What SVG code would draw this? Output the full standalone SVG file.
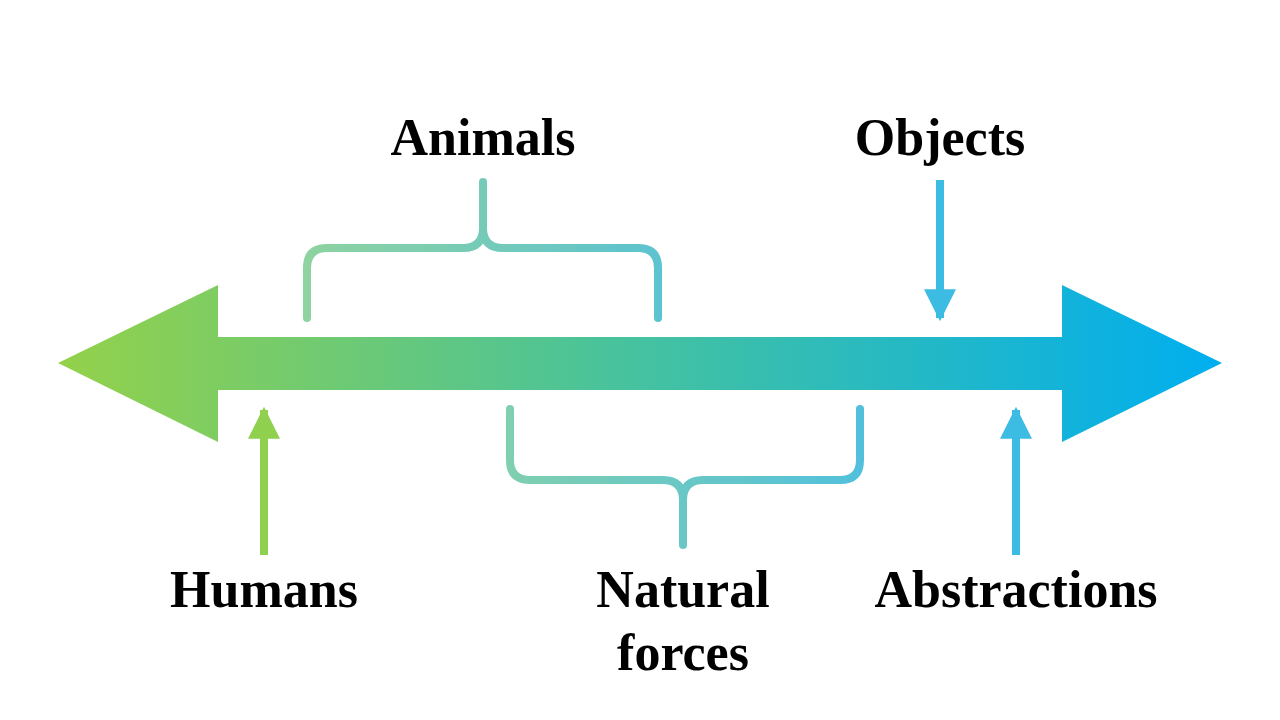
<svg xmlns="http://www.w3.org/2000/svg" width="1280" height="720" viewBox="0 0 1280 720">
<defs>
<linearGradient id="main" x1="58" y1="0" x2="1222" y2="0" gradientUnits="userSpaceOnUse">
<stop offset="0" stop-color="#94d14a"/><stop offset="0.5" stop-color="#45c2a0"/><stop offset="1" stop-color="#00aeef"/>
</linearGradient>
<linearGradient id="b1" x1="305" y1="0" x2="660" y2="0" gradientUnits="userSpaceOnUse">
<stop offset="0" stop-color="#8ed3a0"/><stop offset="1" stop-color="#5cc3d0"/>
</linearGradient>
<linearGradient id="b2" x1="510" y1="0" x2="862" y2="0" gradientUnits="userSpaceOnUse">
<stop offset="0" stop-color="#7fcfb0"/><stop offset="1" stop-color="#52c0dc"/>
</linearGradient>
<marker id="ag" viewBox="0 0 10 10" refX="9" refY="5" markerWidth="4" markerHeight="4" orient="auto" markerUnits="strokeWidth"><path d="M0,0L10,5L0,10z" fill="#8fd14f"/></marker>
<marker id="ab" viewBox="0 0 10 10" refX="9" refY="5" markerWidth="4" markerHeight="4" orient="auto" markerUnits="strokeWidth"><path d="M0,0L10,5L0,10z" fill="#3dbce3"/></marker>
</defs>
<style>
text{font-family:"Liberation Serif","DejaVu Serif",serif;font-weight:bold;font-size:52px;fill:#000;text-anchor:middle}
.br{fill:none;stroke-width:8;stroke-linecap:round;stroke-linejoin:round}
</style>
<rect width="1280" height="720" fill="#fff"/>
<g id="axis"><path d="M58,363 L218,285 L218,337 L1062,337 L1062,285 L1222,363 L1062,442 L1062,390 L218,390 L218,442 Z" fill="url(#main)"/></g>
<g id="connectors">
<path class="br" stroke="url(#b1)" d="M307,318 V268 Q307,248 327,248 H463 Q483,248 483,228 V182 M483,228 Q483,248 503,248 H638 Q658,248 658,268 V318"/>
<path class="br" stroke="url(#b2)" d="M510,409 V460 Q510,480 530,480 H663 Q683,480 683,500 V545 M683,500 Q683,480 703,480 H840 Q860,480 860,460 V409"/>
<line x1="940" y1="180" x2="940" y2="318" stroke="#3dbce3" stroke-width="8" marker-end="url(#ab)"/>
<line x1="264" y1="555" x2="264" y2="410" stroke="#8fd14f" stroke-width="8" marker-end="url(#ag)"/>
<line x1="1016" y1="555" x2="1016" y2="410" stroke="#3dbce3" stroke-width="8" marker-end="url(#ab)"/>
</g>
<g id="animals"><text x="483" y="155">Animals</text></g>
<g id="objects"><text x="940" y="155">Objects</text></g>
<g id="humans"><text x="264" y="607">Humans</text></g>
<g id="natural"><text x="683" y="607">Natural</text><text x="683" y="670">forces</text></g>
<g id="abstractions"><text x="1016" y="607">Abstractions</text></g>
</svg>
